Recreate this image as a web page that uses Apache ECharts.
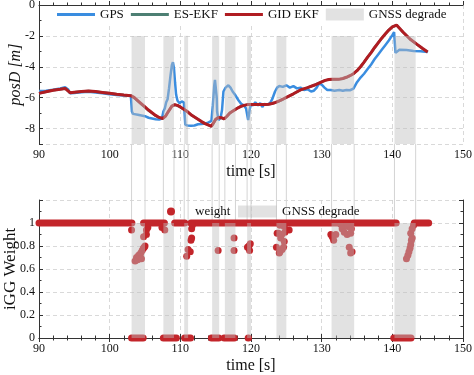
<!DOCTYPE html>
<html>
<head>
<meta charset="utf-8">
<script src="https://cdn.jsdelivr.net/npm/echarts@6/dist/echarts.min.js"></script>
<style>
  html, body { margin: 0; padding: 0; background: #fff; }
  #main { width: 474px; height: 375px; }
</style>
</head>
<body>
<div id="main"></div>
<script>
// 上图 posD 数据
var gpsTime = [90.0, 91.0, 92.0, 93.0, 93.7, 94.1, 94.4, 95.0, 96.0, 97.0, 98.0, 99.0, 100.0, 101.0, 102.0, 103.0,
  103.15, 103.3, 104.0, 104.5, 105.0, 105.5, 106.0, 106.5, 107.0, 107.4, 107.6, 107.8, 108.0, 108.2, 108.4, 108.6,
  108.8, 108.95, 109.1, 109.25, 109.4, 109.6, 109.9, 110.2, 110.5, 110.6, 110.7, 111.0, 111.5, 112.0, 112.5, 113.0,
  113.5, 114.0, 114.4, 114.6, 114.8, 114.9, 115.0, 115.15, 115.2, 115.4, 115.7, 115.9, 116.1, 116.4, 116.8, 117.1,
  117.4, 117.8, 118.2, 118.6, 119.0, 119.3, 119.6, 119.8, 120.0, 120.3, 120.6, 121.0, 121.3, 121.6, 121.9, 122.3,
  122.7, 123.0, 123.4, 123.7, 124.0, 124.5, 125.0, 125.5, 126.0, 126.5, 127.0, 127.5, 128.0, 128.5, 128.9, 129.3,
  129.6, 130.0, 130.4, 130.8, 131.3, 131.8, 132.5, 133.0, 133.5, 134.0, 134.5, 135.0, 135.5, 136.0, 136.5, 137.0,
  137.5, 138.0, 138.5, 139.0, 139.5, 140.0, 140.25, 140.45, 140.7, 141.0, 142.0, 143.0, 144.0, 145.0];
var gpsPosD = [-5.57, -5.55, -5.48, -5.40, -5.33, -5.45, -5.72, -5.70, -5.65, -5.62, -5.66, -5.72, -5.78, -5.82, -5.86, -5.90,
  -6.90, -7.05, -7.10, -7.15, -7.20, -7.30, -7.35, -7.40, -7.42, -7.35, -6.90, -6.70, -6.30, -6.10, -5.40, -4.60,
  -3.90, -3.70, -4.10, -5.00, -5.80, -6.20, -6.35, -6.25, -6.30, -7.00, -7.75, -7.80, -7.82, -7.80, -7.72, -7.70,
  -7.68, -7.60, -7.50, -6.50, -5.20, -4.85, -5.30, -6.00, -6.90, -7.45, -7.30, -6.80, -5.60, -5.35, -5.20, -5.35,
  -5.60, -5.85, -6.15, -6.40, -6.50, -6.70, -7.45, -6.80, -6.40, -6.50, -6.30, -6.50, -6.35, -6.60, -6.40, -6.45,
  -6.35, -6.10, -5.60, -5.35, -5.25, -5.30, -5.20, -5.35, -5.25, -5.40, -5.35, -5.50, -5.45, -5.60, -5.55, -5.35,
  -5.10, -5.15, -5.35, -5.50, -5.50, -5.55, -5.50, -5.55, -5.50, -5.52, -5.42, -5.00, -4.70, -4.45, -4.15, -3.85,
  -3.50, -3.20, -2.90, -2.60, -2.30, -1.95, -1.75, -3.10, -3.05, -2.90, -2.92, -2.98, -3.00, -3.05];

var ekfTime = [90.0, 91.0, 92.0, 93.0, 93.7, 94.4, 95.0, 96.0, 97.0, 98.0, 99.0, 100.0, 101.0, 102.0, 103.0, 103.5,
  104.0, 104.5, 105.0, 105.5, 106.0, 106.5, 107.0, 107.5, 107.9, 108.3, 108.8, 109.2, 109.6, 110.0, 110.5, 111.0,
  111.5, 112.0, 112.5, 113.0, 113.5, 114.0, 114.4, 114.6, 115.0, 115.4, 115.8, 116.2, 116.6, 117.0, 117.5, 118.0,
  118.5, 119.0, 119.5, 120.0, 121.0, 122.0, 122.5, 123.0, 123.5, 124.0, 124.5, 125.0, 126.0, 127.0, 128.0, 129.0,
  130.0, 130.5, 131.0, 131.5, 132.0, 132.5, 133.0, 133.5, 134.0, 134.5, 135.0, 135.5, 136.0, 136.5, 137.0, 137.5,
  138.0, 138.5, 139.0, 139.5, 140.0, 140.6, 141.5, 142.5, 143.5, 144.3, 145.0];
var gidPosD = [-5.72, -5.62, -5.52, -5.45, -5.40, -5.68, -5.65, -5.60, -5.57, -5.60, -5.66, -5.72, -5.78, -5.83, -5.87, -6.00,
  -6.20, -6.40, -6.60, -6.80, -6.98, -7.15, -7.28, -7.35, -7.20, -6.90, -6.55, -6.45, -6.50, -6.60, -6.75, -6.90,
  -7.10, -7.25, -7.40, -7.55, -7.68, -7.78, -7.85, -7.70, -7.40, -7.28, -7.30, -7.38, -7.20, -7.00, -6.85, -6.70,
  -6.58, -6.50, -6.45, -6.44, -6.45, -6.44, -6.42, -6.38, -6.30, -6.20, -6.10, -5.98, -5.75, -5.50, -5.35, -5.18,
  -4.98, -4.88, -4.82, -4.80, -4.80, -4.80, -4.76, -4.68, -4.58, -4.45, -4.25, -4.00, -3.70, -3.38, -3.08, -2.75,
  -2.45, -2.15, -1.88, -1.62, -1.42, -1.30, -1.75, -2.20, -2.55, -2.82, -3.04];
var esPosD = [-5.72, -5.62, -5.52, -5.45, -5.40, -5.68, -5.65, -5.60, -5.57, -5.60, -5.66, -5.72, -5.78, -5.83, -5.87, -6.02,
  -6.22, -6.43, -6.63, -6.83, -7.00, -7.17, -7.29, -7.35, -7.20, -6.90, -6.55, -6.46, -6.52, -6.62, -6.76, -6.91,
  -7.10, -7.25, -7.40, -7.55, -7.68, -7.78, -7.86, -7.72, -7.42, -7.29, -7.31, -7.38, -7.20, -7.00, -6.85, -6.70,
  -6.58, -6.50, -6.45, -6.44, -6.45, -6.44, -6.42, -6.38, -6.31, -6.22, -6.12, -5.99, -5.75, -5.50, -5.35, -5.18,
  -4.98, -4.88, -4.83, -4.82, -4.82, -4.81, -4.77, -4.68, -4.58, -4.45, -4.25, -4.00, -3.70, -3.38, -3.08, -2.75,
  -2.45, -2.15, -1.88, -1.62, -1.42, -1.31, -1.76, -2.21, -2.56, -2.83, -3.04];

// GNSS 退化区间 [开始, 结束]
var degradeSpans = [[103.1, 105.0], [107.6, 109.1], [110.55, 111.1], [114.5, 115.5], [116.3, 117.8],
  [119.45, 120.0], [123.6, 125.0], [131.4, 134.6], [140.3, 143.3]];

// 下图 iGG 权重
var weightOneSpans = [[90.0, 103.1], [104.8, 107.7], [109.2, 110.6], [111.5, 140.5], [143.1, 145.1]];
var weightZeroSpans = [[103.1, 104.7], [107.6, 109.4], [110.6, 111.4], [114.4, 115.4], [116.2, 117.6],
  [119.6, 119.6], [140.2, 142.6]];
var weightTime = [103.1, 103.6, 103.8, 103.96, 104.1, 104.3, 104.4, 104.5, 104.6, 104.76, 104.9, 104.8, 105.0, 105.2,
  105.2, 105.4, 107.4, 107.8, 110.9, 111.1, 111.4, 111.5, 111.6, 111.6, 111.7, 115.35, 117.6, 117.6, 119.5, 119.7,
  119.9, 119.8, 123.6, 123.7, 123.9, 124.0, 124.1, 124.1, 124.2, 124.35, 124.4, 124.6, 124.7, 124.7, 124.8, 125.4,
  131.3, 131.5, 131.7, 132.0, 132.7, 132.9, 133.2, 133.6, 133.7, 133.6, 133.9, 134.1, 134.1, 134.2, 134.3,
  142.0, 142.2, 142.35, 142.5, 142.6, 142.7, 142.8, 142.6, 142.8, 143.0];
var weightValue = [0.94, 0.67, 0.70, 0.68, 0.72, 0.71, 0.74, 0.69, 0.76, 0.78, 0.79, 0.88, 0.80, 0.90,
  0.94, 0.96, 0.96, 0.94, 0.71, 0.77, 0.75, 0.85, 0.87, 0.95, 0.98, 0.76, 0.87, 0.76, 0.79, 0.80,
  0.82, 0.76, 0.79, 0.91, 0.91, 0.74, 0.98, 0.75, 0.87, 0.90, 0.77, 0.79, 0.84, 0.97, 0.92, 0.94,
  0.90, 0.88, 0.85, 0.90, 0.99, 0.95, 0.92, 0.99, 0.97, 0.90, 0.79, 0.91, 0.74, 0.95, 0.75,
  0.69, 0.72, 0.75, 0.78, 0.81, 0.85, 0.87, 0.91, 0.95, 0.98];

var ff = 'Liberation Serif';
var txt = '#111';
var bandColor = 'rgba(190, 190, 190, 0.45)';
var redColor = '#c3252a';
var lineIcon = 'path://M0,0H38V3H0Z';

function zip(a, b) {
  return a.map(function (v, i) { return [v, b[i]]; });
}

function renderBand(params, api) {
  var lt = api.coord([api.value(0), api.value(3)]);
  var rb = api.coord([api.value(1), api.value(2)]);
  return {
    type: 'rect',
    shape: { x: lt[0], y: lt[1], width: rb[0] - lt[0], height: rb[1] - lt[1] },
    style: { fill: bandColor }
  };
}

function renderSpan(params, api) {
  var a = api.coord([api.value(0), api.value(2)]);
  var b = api.coord([api.value(1), api.value(2)]);
  return {
    type: 'line',
    shape: { x1: a[0], y1: a[1], x2: b[0] + 0.3, y2: b[1] },
    style: { stroke: redColor, lineWidth: 7, lineCap: 'round' }
  };
}

function renderLink(params, api) {
  var a = api.coord([api.value(0), 0]);
  var b = api.coord([api.value(0), 1]);
  return {
    type: 'line',
    shape: { x1: a[0], y1: a[1], x2: b[0], y2: b[1] },
    style: { stroke: '#d4d4d4', lineWidth: 1 }
  };
}

var linkTimes = [];
degradeSpans.forEach(function (s) { linkTimes.push([s[0], 0], [s[1], 0]); });

var dashed = { show: true, lineStyle: { type: [4, 3], color: '#cfcfcf', width: 0.8 } };
var axisLine = { show: true, lineStyle: { color: '#333', width: 1 } };
var tick = { show: true, inside: true, length: 4, lineStyle: { color: '#333' } };
var labelStyle = { fontFamily: ff, fontSize: 12, color: txt };

function timeAxis(gridIndex, showLabel) {
  return {
    type: 'value', gridIndex: gridIndex, min: 90, max: 150, interval: 10,
    name: 'time [s]', nameLocation: 'middle', nameGap: 20, nameMoveOverlap: false,
    nameTextStyle: { fontFamily: ff, fontSize: 16, color: txt },
    axisLine: axisLine, axisTick: tick,
    minorTick: { show: true, splitNumber: 5, length: 2.5, lineStyle: { color: '#333' } },
    axisLabel: Object.assign({ show: showLabel, margin: 5 }, labelStyle),
    splitLine: dashed
  };
}

var chart = echarts.init(document.getElementById('main'), null, { renderer: 'canvas' });

var option = {
  backgroundColor: '#fff',
  animation: false,
  grid: [
    { left: 39, top: 5, width: 424, height: 139, containLabel: false, outerBoundsMode: 'none' },
    { left: 39, top: 200, width: 424, height: 138, containLabel: false, outerBoundsMode: 'none' },
    { left: 39, top: 144, width: 424, height: 79, containLabel: false, outerBoundsMode: 'none' }
  ],
  legend: [
    {
      left: 53, top: 6, padding: [2, 4], backgroundColor: '#fff', selectedMode: false,
      itemWidth: 38, itemHeight: 12, itemGap: 7,
      textStyle: { fontFamily: ff, fontSize: 13, color: txt },
      data: [{ name: 'GPS', icon: lineIcon }, { name: 'ES-EKF', icon: lineIcon }, { name: 'GID EKF', icon: lineIcon },
        { name: 'GNSS degrade', icon: 'rect' }]
    },
    {
      left: 167, top: 205, padding: 0, selectedMode: false,
      itemWidth: 38, itemHeight: 8,
      textStyle: { fontFamily: ff, fontSize: 13, color: txt },
      data: [{ name: 'weight', icon: 'circle' }]
    },
    {
      left: 238, top: 205, padding: 0, selectedMode: false,
      itemWidth: 39, itemHeight: 12,
      textStyle: { fontFamily: ff, fontSize: 13, color: txt },
      data: [{ name: 'GNSS degrade', icon: 'rect' }]
    }
  ],
  xAxis: [
    timeAxis(0, true),
    timeAxis(1, true),
    {
      type: 'value', gridIndex: 1, position: 'top', min: 90, max: 150, interval: 10,
      axisLine: axisLine, axisTick: tick,
      minorTick: { show: true, splitNumber: 5, length: 2.5, lineStyle: { color: '#333' } },
      axisLabel: { show: false }, splitLine: { show: false }
    },
    { type: 'value', gridIndex: 2, min: 90, max: 150, show: false }
  ],
  yAxis: [
    {
      type: 'value', gridIndex: 0, min: -9, max: 0, splitNumber: 5,
      name: 'posD [m]', nameLocation: 'middle', nameGap: 15, nameMoveOverlap: false,
      nameTextStyle: { fontFamily: ff, fontSize: 16, fontStyle: 'italic', color: txt },
      axisLine: axisLine, axisTick: tick,
      minorTick: { show: true, splitNumber: 2, length: 2.5, lineStyle: { color: '#333' } },
      axisLabel: Object.assign({
        margin: 4, showMinLabel: false,
        formatter: function (v) { return v === -9 ? '' : String(v); }
      }, labelStyle),
      splitLine: dashed
    },
    {
      type: 'value', gridIndex: 1, min: 0, max: 1.2, interval: 0.2,
      name: 'iGG Weight', nameLocation: 'middle', nameGap: 20, nameMoveOverlap: false,
      nameTextStyle: { fontFamily: ff, fontSize: 17, color: txt },
      axisLine: axisLine, axisTick: tick,
      minorTick: { show: true, splitNumber: 2, length: 2.5, lineStyle: { color: '#333' } },
      axisLabel: Object.assign({ margin: 4, showMaxLabel: false }, labelStyle),
      splitLine: dashed
    },
    {
      type: 'value', gridIndex: 1, position: 'right', min: 0, max: 1.2, interval: 0.2,
      axisLine: axisLine, axisTick: tick,
      minorTick: { show: true, splitNumber: 2, length: 2.5, lineStyle: { color: '#333' } },
      axisLabel: { show: false }, splitLine: { show: false }
    },
    { type: 'value', gridIndex: 2, min: 0, max: 1, show: false }
  ],
  series: [
    {
      name: 'GPS', type: 'line', xAxisIndex: 0, yAxisIndex: 0, z: 2,
      symbol: 'none', data: zip(gpsTime, gpsPosD),
      lineStyle: { color: '#3a8de0', width: 2.5 }, itemStyle: { color: '#3a8de0' }
    },
    {
      name: 'ES-EKF', type: 'line', xAxisIndex: 0, yAxisIndex: 0, z: 2,
      symbol: 'none', data: zip(ekfTime, esPosD),
      lineStyle: { color: '#4d7f73', width: 2.5 }, itemStyle: { color: '#4d7f73' }
    },
    {
      name: 'GID EKF', type: 'line', xAxisIndex: 0, yAxisIndex: 0, z: 2,
      symbol: 'none', data: zip(ekfTime, gidPosD),
      lineStyle: { color: '#b01c22', width: 3 }, itemStyle: { color: '#b01c22' }
    },
    {
      name: 'GNSS degrade', type: 'custom', xAxisIndex: 0, yAxisIndex: 0, z: 3,
      renderItem: renderBand, itemStyle: { color: bandColor },
      encode: { x: [0, 1], y: [2, 3] },
      data: degradeSpans.map(function (s) { return [s[0], s[1], -9, -2]; })
    },
    {
      name: 'weight', type: 'scatter', xAxisIndex: 1, yAxisIndex: 1, z: 2,
      symbolSize: 7, itemStyle: { color: redColor, opacity: 1 },
      data: zip(weightTime, weightValue)
    },
    {
      name: 'weightSpan', type: 'custom', xAxisIndex: 1, yAxisIndex: 1, z: 2,
      renderItem: renderSpan, encode: { x: [0, 1], y: 2 },
      data: weightOneSpans.map(function (s) { return [s[0], s[1], 1]; })
        .concat(weightZeroSpans.map(function (s) { return [s[0], s[1], 0]; }))
    },
    {
      name: 'GNSS degrade', type: 'custom', xAxisIndex: 1, yAxisIndex: 1, z: 3,
      renderItem: renderBand, itemStyle: { color: bandColor },
      encode: { x: [0, 1], y: [2, 3] },
      data: degradeSpans.map(function (s) { return [s[0], s[1], 0, 1]; })
    },
    {
      name: 'link', type: 'custom', xAxisIndex: 3, yAxisIndex: 3, z: 1,
      renderItem: renderLink, encode: { x: 0, y: 1 },
      data: linkTimes
    }
  ]
};

chart.setOption(option);
</script>
</body>
</html>
